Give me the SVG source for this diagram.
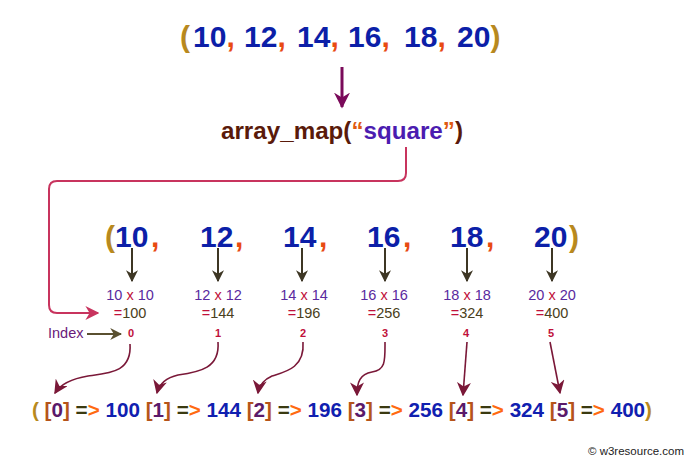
<svg xmlns="http://www.w3.org/2000/svg" width="688" height="460" viewBox="0 0 688 460">
<defs>
<style>
text{font-family:"Liberation Sans",Arial,sans-serif}
.b{font-weight:bold}
.par{fill:#b8891e}
.num{fill:#0c1fa8}
.com{fill:#e84a12}
.lab{fill:#5a2a9e;font-size:14.5px}
.x{fill:#c0103a}
.res{fill:#4a4020;font-size:14.5px}
.eq{fill:#c0103a}
.idx{fill:#c0103a;font-size:11px;font-weight:bold}
.br{fill:#b5541a}
.bi{fill:#5a1a6a}
.be{fill:#3a3a10}
.bg{fill:#ff6a10}
.bv{fill:#1020b0}
.sa{stroke:#3d3624;stroke-width:2;fill:none}
.cv{stroke:#7a1838;stroke-width:1.6;fill:none}
</style>
<marker id="mPur" viewBox="0 0 10 10" refX="9" refY="5" markerWidth="16" markerHeight="16" markerUnits="userSpaceOnUse" orient="auto"><path d="M0,0 L10,5 L0,10 L3,5 z" fill="#7a0a5a"/></marker>
<marker id="mDk" viewBox="0 0 10 10" refX="9" refY="5" markerWidth="12" markerHeight="12" markerUnits="userSpaceOnUse" orient="auto"><path d="M0,0 L10,5 L0,10 L3,5 z" fill="#3d3624"/></marker>
<marker id="mPink" viewBox="0 0 10 10" refX="9" refY="5" markerWidth="14" markerHeight="14" markerUnits="userSpaceOnUse" orient="auto"><path d="M0,0 L10,5 L0,10 L3,5 z" fill="#c8345e"/></marker>
<marker id="mOl" viewBox="0 0 10 10" refX="9" refY="5" markerWidth="12" markerHeight="12" markerUnits="userSpaceOnUse" orient="auto"><path d="M0,0 L10,5 L0,10 L3,5 z" fill="#5a5030"/></marker>
<marker id="mMar" viewBox="0 0 10 10" refX="9" refY="5" markerWidth="14" markerHeight="14" markerUnits="userSpaceOnUse" orient="auto"><path d="M0,0 L10,5 L0,10 L3,5 z" fill="#7a1838"/></marker>
</defs>
<rect width="688" height="460" fill="#ffffff"/>

<g id="input-array">
<text class="b" font-size="30" y="47"><tspan class="par" x="180">(</tspan><tspan class="num" x="193">10</tspan><tspan class="com">,</tspan><tspan class="num" x="244">12</tspan><tspan class="com">,</tspan><tspan class="num" x="297">14</tspan><tspan class="com">,</tspan><tspan class="num" x="348">16</tspan><tspan class="com">,</tspan><tspan class="num" x="404">18</tspan><tspan class="com">,</tspan><tspan class="num" x="457">20</tspan><tspan class="par">)</tspan></text>
</g>

<g id="function">
<text class="b" font-size="23" y="139" x="221" textLength="242" lengthAdjust="spacingAndGlyphs"><tspan fill="#5a1a0a">array_map(</tspan><tspan fill="#e05a10">“</tspan><tspan fill="#4b1cb0">square</tspan><tspan fill="#e05a10">”</tspan><tspan fill="#5a1a0a">)</tspan></text>
</g>

<g id="squares">
<text class="b" font-size="30" y="247"><tspan class="par" x="105">(</tspan><tspan class="num" x="115">10</tspan><tspan class="com" x="151">,</tspan><tspan class="num" x="200">12</tspan><tspan class="com" x="235">,</tspan><tspan class="num" x="283">14</tspan><tspan class="com" x="319">,</tspan><tspan class="num" x="367">16</tspan><tspan class="com" x="403">,</tspan><tspan class="num" x="450">18</tspan><tspan class="com" x="486">,</tspan><tspan class="num" x="534">20</tspan><tspan class="par" x="569">)</tspan></text>
<g text-anchor="middle">
<text class="lab" x="130" y="300">10 <tspan class="x">x</tspan> 10</text>
<text class="lab" x="218" y="300">12 <tspan class="x">x</tspan> 12</text>
<text class="lab" x="304" y="300">14 <tspan class="x">x</tspan> 14</text>
<text class="lab" x="384" y="300">16 <tspan class="x">x</tspan> 16</text>
<text class="lab" x="467" y="300">18 <tspan class="x">x</tspan> 18</text>
<text class="lab" x="552" y="300">20 <tspan class="x">x</tspan> 20</text>
<text class="res" x="130" y="318"><tspan class="eq">=</tspan>100</text>
<text class="res" x="218" y="318"><tspan class="eq">=</tspan>144</text>
<text class="res" x="304" y="318"><tspan class="eq">=</tspan>196</text>
<text class="res" x="384" y="318"><tspan class="eq">=</tspan>256</text>
<text class="res" x="467" y="318"><tspan class="eq">=</tspan>324</text>
<text class="res" x="552" y="318"><tspan class="eq">=</tspan>400</text>
<text class="idx" x="131" y="337">0</text>
<text class="idx" x="218" y="337">1</text>
<text class="idx" x="303" y="337">2</text>
<text class="idx" x="385" y="337">3</text>
<text class="idx" x="466" y="337">4</text>
<text class="idx" x="551" y="337">5</text>
</g>
</g>

<g id="index-label">
<text x="48" y="338" font-size="14.5" fill="#6a1a7a">Index</text>
</g>

<g id="result">
<text class="b" font-size="21" y="417" x="32" textLength="620" lengthAdjust="spacingAndGlyphs"><tspan class="par">( </tspan><tspan class="br">[</tspan><tspan class="bi">0</tspan><tspan class="br">]</tspan> <tspan class="be">=</tspan><tspan class="bg">&gt;</tspan> <tspan class="bv">100</tspan> <tspan class="br">[</tspan><tspan class="bi">1</tspan><tspan class="br">]</tspan> <tspan class="be">=</tspan><tspan class="bg">&gt;</tspan> <tspan class="bv">144</tspan> <tspan class="br">[</tspan><tspan class="bi">2</tspan><tspan class="br">]</tspan> <tspan class="be">=</tspan><tspan class="bg">&gt;</tspan> <tspan class="bv">196</tspan> <tspan class="br">[</tspan><tspan class="bi">3</tspan><tspan class="br">]</tspan> <tspan class="be">=</tspan><tspan class="bg">&gt;</tspan> <tspan class="bv">256</tspan> <tspan class="br">[</tspan><tspan class="bi">4</tspan><tspan class="br">]</tspan> <tspan class="be">=</tspan><tspan class="bg">&gt;</tspan> <tspan class="bv">324</tspan> <tspan class="br">[</tspan><tspan class="bi">5</tspan><tspan class="br">]</tspan> <tspan class="be">=</tspan><tspan class="bg">&gt;</tspan> <tspan class="bv">400</tspan><tspan class="par">)</tspan></text>
</g>

<g id="connectors">
<line x1="342" y1="67" x2="342" y2="107" stroke="#7a0a5a" stroke-width="3" marker-end="url(#mPur)"/>
<path d="M406,147 V173 Q406,181 398,181 H57 Q49,181 49,189 V305 Q49,313 57,313 H98" stroke="#c8345e" stroke-width="2" fill="none" marker-end="url(#mPink)"/>
<line x1="87" y1="334" x2="121" y2="334" stroke="#5a5030" stroke-width="2" marker-end="url(#mOl)"/>
<line class="sa" x1="132" y1="248" x2="132" y2="281" marker-end="url(#mDk)"/>
<line class="sa" x1="218" y1="248" x2="218" y2="281" marker-end="url(#mDk)"/>
<line class="sa" x1="302" y1="248" x2="302" y2="281" marker-end="url(#mDk)"/>
<line class="sa" x1="385" y1="248" x2="385" y2="281" marker-end="url(#mDk)"/>
<line class="sa" x1="467" y1="248" x2="467" y2="281" marker-end="url(#mDk)"/>
<line class="sa" x1="552" y1="248" x2="552" y2="281" marker-end="url(#mDk)"/>
<path class="cv" d="M130,344 C132,372 110,373 88,376 C70,379 60,385 55,393" marker-end="url(#mMar)"/>
<path class="cv" d="M218,342 C220,368 200,372 178,375 C165,378 159,385 157,393" marker-end="url(#mMar)"/>
<path class="cv" d="M303,342 C305,368 285,372 272,376 C263,380 259,386 258,393" marker-end="url(#mMar)"/>
<path class="cv" d="M385,342 C385,360 386,370 372,372 C360,374 357,382 357,395" marker-end="url(#mMar)"/>
<line class="cv" x1="467" y1="342" x2="463" y2="395" marker-end="url(#mMar)"/>
<line class="cv" x1="550" y1="342" x2="560" y2="393" marker-end="url(#mMar)"/>
</g>

<g id="watermark">
<text x="588" y="455" font-size="11.5" fill="#222222" font-family="'DejaVu Sans',sans-serif">© w3resource.com</text>
</g>
</svg>
